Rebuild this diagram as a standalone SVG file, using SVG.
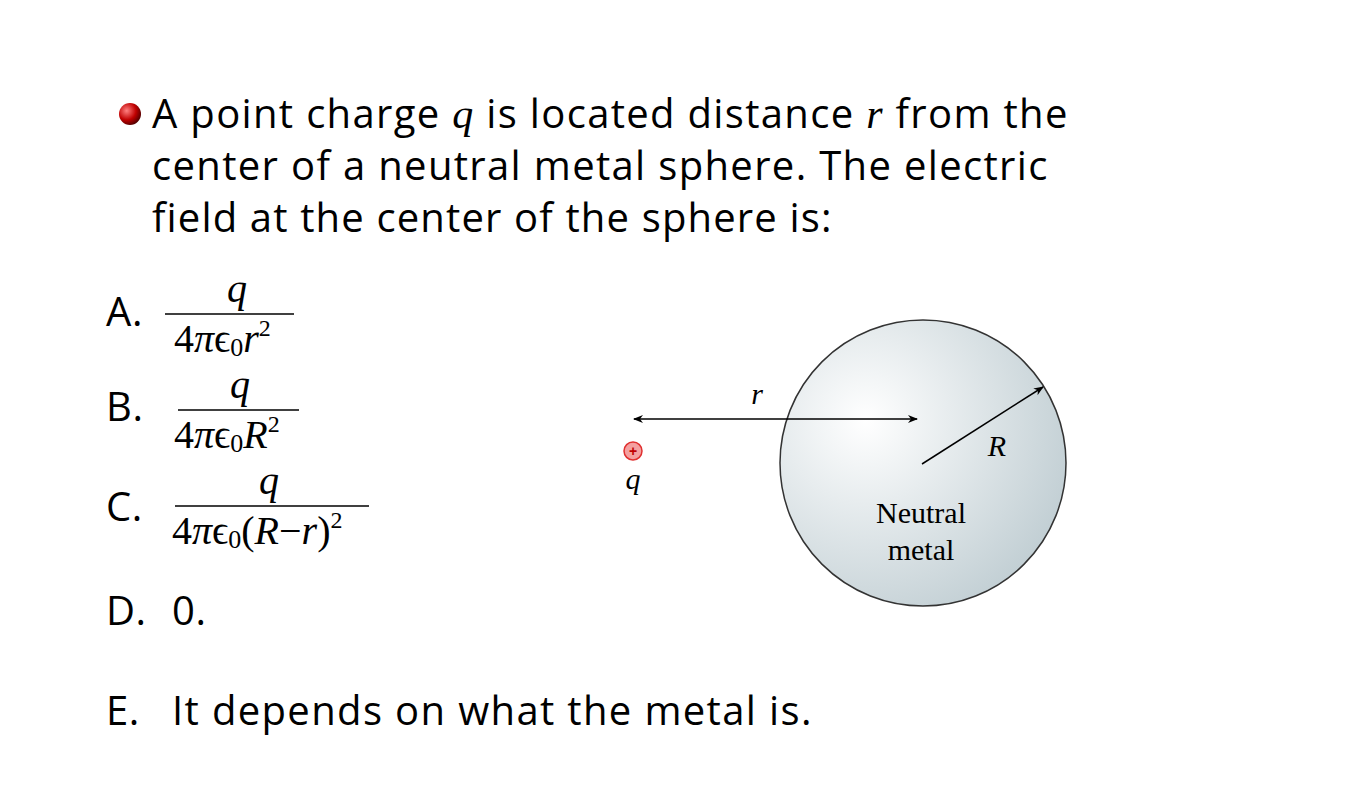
<svg xmlns="http://www.w3.org/2000/svg" width="1354" height="799" viewBox="0 0 1354 799">
<style>
.t{font-family:"Open Sans","Liberation Sans",sans-serif;font-size:40px;fill:#000;letter-spacing:0.6px}
.m{font-family:"Liberation Serif",serif;font-size:40px;fill:#000}
.mi{font-family:"Liberation Serif",serif;font-style:italic}
.s{font-family:"Liberation Serif",serif;font-size:30px;fill:#000}
.l{stroke:#000;stroke-width:1.5}
</style>
<defs>
<radialGradient id="g" cx="0.3" cy="0.35" r="0.75">
<stop offset="0" stop-color="#ffffff"/><stop offset="1" stop-color="#c2cfd4"/>
</radialGradient>
<radialGradient id="b" cx="0.35" cy="0.35" r="0.7">
<stop offset="0" stop-color="#ff8080"/><stop offset="0.6" stop-color="#c00000"/><stop offset="1" stop-color="#500000"/>
</radialGradient>
<marker id="a" markerWidth="10" markerHeight="8" refX="9" refY="4" orient="auto-start-reverse" markerUnits="userSpaceOnUse">
<path d="M0,0 L10,4 L0,8 L3,4 Z" fill="#000"/>
</marker>
</defs>
<rect width="1354" height="799" fill="#fff"/>
<circle cx="130" cy="114" r="11" fill="url(#b)"/>
<text class="t" x="152" y="128" textLength="916">A point charge <tspan class="mi" font-size="42">q</tspan> is located distance <tspan class="mi" font-size="42">r</tspan> from the</text>
<text class="t" x="152" y="180" textLength="896">center of a neutral metal sphere. The electric</text>
<text class="t" x="152" y="232" textLength="680">field at the center of the sphere is:</text>
<text class="t" x="106" y="326">A.</text>
<text class="t" x="106" y="421">B.</text>
<text class="t" x="106" y="521">C.</text>
<text class="t" x="106" y="625">D.</text>
<text class="t" x="172" y="625">0.</text>
<text class="t" x="106" y="725">E.</text>
<text class="t" x="172" y="725" textLength="640">It depends on what the metal is.</text>
<g id="fa">
<text class="m" x="227" y="302"><tspan class="mi">q</tspan></text>
<line x1="165" y1="314" x2="294" y2="314" stroke="#000" stroke-width="1.5"/>
<text class="m" x="174" y="352">4<tspan class="mi">π</tspan>ϵ<tspan font-size="26" dy="4">0</tspan><tspan class="mi" dy="-4">r</tspan><tspan font-size="24" dy="-16">2</tspan></text>
</g>
<g id="fb">
<text class="m" x="230" y="398"><tspan class="mi">q</tspan></text>
<line x1="178" y1="410" x2="299" y2="410" stroke="#000" stroke-width="1.5"/>
<text class="m" x="174" y="448">4<tspan class="mi">π</tspan>ϵ<tspan font-size="26" dy="4">0</tspan><tspan class="mi" dy="-4">R</tspan><tspan font-size="24" dy="-16">2</tspan></text>
</g>
<g id="fc">
<text class="m" x="259" y="494"><tspan class="mi">q</tspan></text>
<line x1="175" y1="506" x2="369" y2="506" stroke="#000" stroke-width="1.5"/>
<text class="m" x="172" y="544">4<tspan class="mi">π</tspan>ϵ<tspan font-size="26" dy="4">0</tspan><tspan dy="-4">(</tspan><tspan class="mi">R</tspan>−<tspan class="mi">r</tspan>)<tspan font-size="24" dy="-16">2</tspan></text>
</g>
<g id="sphere">
<circle cx="923" cy="463" r="143" fill="url(#g)" stroke="#333" stroke-width="1.5"/>
<text class="s" x="921" y="523" text-anchor="middle">Neutral</text>
<text class="s" x="921" y="560" text-anchor="middle">metal</text>
</g>
<g id="charge">
<circle cx="633" cy="451" r="9" fill="#f4a0a0" stroke="#e03030" stroke-width="1.5"/>
<text x="633" y="456" font-family="Liberation Sans,sans-serif" font-size="14" font-weight="bold" fill="#c00000" text-anchor="middle">+</text>
<text class="s mi" x="633" y="489" text-anchor="middle">q</text>
</g>
<g id="connectors">
<line class="l" x1="634" y1="419" x2="917" y2="419" marker-start="url(#a)" marker-end="url(#a)"/>
<line class="l" x1="922" y1="464" x2="1043" y2="387" marker-end="url(#a)"/>
</g>
<text class="s mi" x="757" y="404" text-anchor="middle">r</text>
<text class="s mi" x="997" y="456" text-anchor="middle">R</text>
</svg>
